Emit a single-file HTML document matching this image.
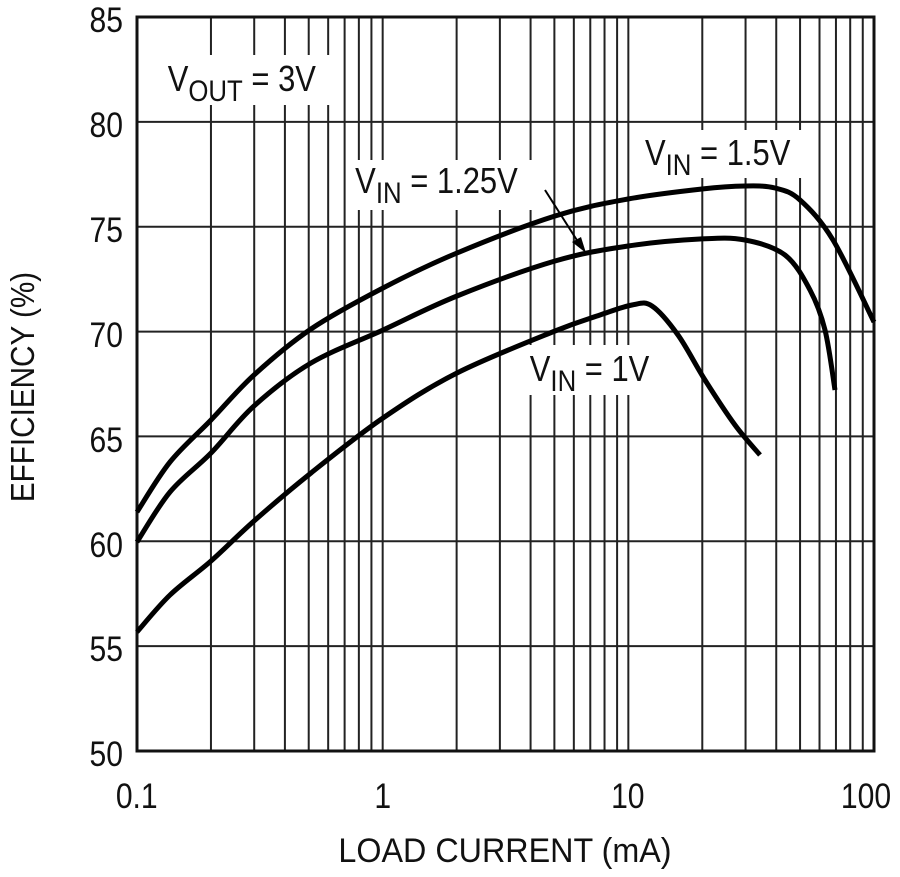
<!DOCTYPE html>
<html><head><meta charset="utf-8"><style>
html,body{margin:0;padding:0;background:#fff;}
svg text{font-family:"Liberation Sans",sans-serif;fill:#111;}
</style></head><body>
<svg width="900" height="872" viewBox="0 0 900 872" xmlns="http://www.w3.org/2000/svg">
<g stroke="#222" stroke-width="2" id="grid"></g>
<rect x="137" y="17" width="737" height="734" fill="none" stroke="#111" stroke-width="3"/>
<rect x="160" y="55" width="175" height="50" fill="#fff"/>
<rect x="350" y="160" width="195" height="50" fill="#fff"/>
<rect x="640" y="130" width="172" height="48" fill="#fff"/>
<rect x="525" y="345" width="145" height="50" fill="#fff"/>
<g fill="none" stroke="#000" stroke-width="5" stroke-linejoin="round" id="curves"></g>
<line x1="545" y1="190" x2="580" y2="245" stroke="#000" stroke-width="2"/>
<polygon points="586,253 572,242 581,237" fill="#000"/>
<g font-size="36" transform="scale(0.86,1)">
<text x="195" y="91">V<tspan font-size="30" dy="10">OUT</tspan><tspan dy="-10"> = 3V</tspan></text>
<text x="413" y="193">V<tspan font-size="30" dy="10">IN</tspan><tspan dy="-10"> = 1.25V</tspan></text>
<text x="750" y="165">V<tspan font-size="30" dy="10">IN</tspan><tspan dy="-10"> = 1.5V</tspan></text>
<text x="616" y="381">V<tspan font-size="30" dy="10">IN</tspan><tspan dy="-10"> = 1V</tspan></text>
</g>
<g font-size="35" text-anchor="end" transform="scale(0.86,1)">
<text x="143" y="32">85</text>
<text x="143" y="137">80</text>
<text x="143" y="242">75</text>
<text x="143" y="347">70</text>
<text x="143" y="452">65</text>
<text x="143" y="557">60</text>
<text x="143" y="661">55</text>
<text x="143" y="766">50</text>
</g>
<g font-size="35" text-anchor="middle" transform="scale(0.86,1)">
<text x="159" y="808">0.1</text>
<text x="445" y="808">1</text>
<text x="730" y="808">10</text>
<text x="1007" y="808">100</text>
</g>
<text transform="translate(505,862) scale(0.95,1)" font-size="34" text-anchor="middle">LOAD CURRENT (mA)</text>
<text transform="translate(34,387) rotate(-90) scale(0.9,1)" font-size="33" text-anchor="middle">EFFICIENCY (%)</text>
</svg>
<script>
(function(){
var g=document.getElementById('grid'),ns='http://www.w3.org/2000/svg';
function ln(x1,y1,x2,y2){var l=document.createElementNS(ns,'line');l.setAttribute('x1',x1);l.setAttribute('y1',y1);l.setAttribute('x2',x2);l.setAttribute('y2',y2);g.appendChild(l);}
var L=137,D=245.67;
for(var d=0;d<3;d++)for(var k=1;k<=9;k++){if(d==0&&k==1)continue;var x=L+D*(d+Math.log10(k));ln(x,17,x,751);}
for(var i=1;i<7;i++){var y=17+i*104.857;ln(137,y,874,y);}
function cr(p){var s='M'+p[0][0]+','+p[0][1];for(var i=0;i<p.length-1;i++){var p0=p[i-1]||p[i],p1=p[i],p2=p[i+1],p3=p[i+2]||p2;
s+=' C'+(p1[0]+(p2[0]-p0[0])/6)+','+(p1[1]+(p2[1]-p0[1])/6)+' '+(p2[0]-(p3[0]-p1[0])/6)+','+(p2[1]-(p3[1]-p1[1])/6)+' '+p2[0]+','+p2[1];}return s;}
var c=document.getElementById('curves');
var data=[
[[137,512],[170,462],[211,420],[254,375],[311,329],[383,288],[457,253],[555,216],[628,199],[702,189],[745,186],[775,188],[800,200],[833,240],[874,322]],
[[137,542],[170,492],[211,453],[254,406],[311,363],[383,330],[457,296],[555,261],[628,246],[700,239],[745,240],[785,255],[810,290],[825,330],[835,390]],
[[137,632],[170,595],[211,561],[254,521],[311,473],[383,418],[457,373],[555,331],[600,315],[632,305],[652,306],[678,335],[705,380],[735,425],[760,455]]];
data.forEach(function(p){var e=document.createElementNS(ns,'path');e.setAttribute('d',cr(p));c.appendChild(e);});
})();
</script>
</body></html>
